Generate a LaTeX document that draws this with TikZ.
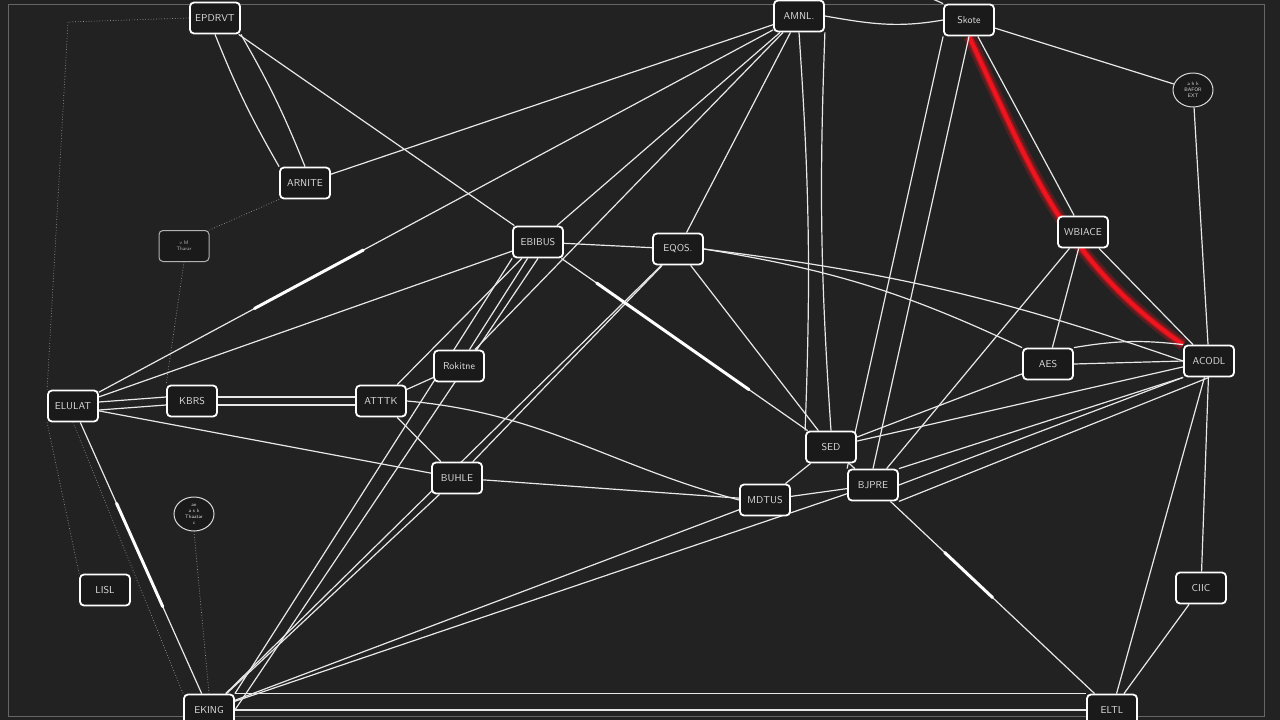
\documentclass[tikz,border=0pt]{standalone}
\usepackage{tikz}
\usetikzlibrary{calc}
\usetikzlibrary{positioning}
\usetikzlibrary{shapes}
\definecolor{boardBg}{RGB}{34,34,34}
\definecolor{boxFill}{RGB}{26,26,26}
\definecolor{wireGrey}{RGB}{232,232,232}
\definecolor{glowRed}{RGB}{240,20,30}
\pgfdeclarelayer{board}
\pgfdeclarelayer{wires}
\pgfsetlayers{board,wires,main}
\tikzset{every picture/.style={semithick}}
\tikzset{
	box/.style={draw=white, line width=1.8pt, rounded corners=4pt, fill=boxFill, text=white!88!black,
		minimum width=50pt, minimum height=31pt, inner sep=2pt, font=\sffamily},
	dimbox/.style={box, draw=white!70!black, line width=1pt, text=white!70!black, font=\sffamily\tiny, align=center},
	oval/.style={ellipse, draw=white!85!black, line width=1pt, fill=boxFill, text=white!85!black,
		minimum width=40pt, minimum height=34pt, inner sep=0pt, font=\sffamily\tiny, align=center},
	link/.style={draw=wireGrey, line width=1.2pt},
	dotlink/.style={draw=white!60!black, line width=0.7pt, dotted},
	glint/.style={draw=white, line width=3pt, line cap=round},
	redwire/.style={draw=glowRed, line width=4pt},
	redglow/.style={draw=glowRed, line width=12pt, opacity=0.25}
}
\begin{document}
\begin{tikzpicture}[x=1pt, y=-1pt]
	\clip (0,0) rectangle (1280,720);
	\begin{pgfonlayer}{board}
	\fill[boardBg] (0,0) rectangle (1280,720);
	\draw[white!40!black, line width=0.6pt] (8,4) rectangle (1264,716);
	\end{pgfonlayer}

	% boxes
	\node[box] (epdrvt) at (215,18) {EPDRVT};
	\node[box] (amnl) at (799,16) {AMNL.};
	\node[box] (skote) at (969,20) {Skote};
	\node[oval] (ovA) at (1193,90) {a h k\\ BAFOR\\ EXT};
	\node[box] (arnite) at (305,183) {ARNITE};
	\node[dimbox] (vmt) at (184,246) {v M\\ Tharar};
	\node[box] (ebibus) at (538,242) {EBIBUS};
	\node[box] (eqos) at (678,249) {EQOS.};
	\node[box] (wbiace) at (1083,232) {WBIACE};
	\node[box] (aes) at (1048,364) {AES};
	\node[box] (acodl) at (1209,361) {ACODL};
	\node[box] (elulat) at (73,406) {ELULAT};
	\node[box] (kbrs) at (192,401) {KBRS};
	\node[box] (atttk) at (381,401) {ATTTK};
	\node[box] (rokitne) at (459,366) {Rokitne};
	\node[box] (sed) at (831,447) {SED};
	\node[box] (buhle) at (457,478) {BUHLE};
	\node[box] (mdtus) at (765,500) {MDTUS};
	\node[box] (bjpre) at (873,485) {BJPRE};
	\node[oval] (ovB) at (194,514) {an\\ a s k\\ Thaatar\\ c};
	\node[box] (lisl) at (105,590) {LISL};
	\node[box] (ciic) at (1201,588) {CIIC};
	\node[box] (eking) at (209,710) {EKING};
	\node[box] (eltl) at (1112,710) {ELTL};

	\coordinate (cornerTL) at (68,22);

	\begin{pgfonlayer}{wires}
	% red wire
	\draw[redglow] (skote.south) to[out=-65,in=145] (acodl.north west);
	\draw[redglow, line width=7pt, opacity=0.45] (skote.south) to[out=-65,in=145] (acodl.north west);
	\draw[redwire] (skote.south) to[out=-65,in=145] (acodl.north west);

	% dotted guides
	\draw[dotlink] (elulat.north west) -- (cornerTL) -- (epdrvt.west);
	\draw[dotlink] (arnite.south west) -- (vmt.north east);
	\draw[dotlink] (vmt.south) -- (kbrs.north west);
	\draw[dotlink] (ovB.south) -- (eking.north);
	\draw[dotlink] (elulat.south west) -- (lisl.north west);
	\draw[dotlink] (elulat.south) -- (eking.north west);

	% wires
	\draw[link] (epdrvt.south) to[bend right=4] (arnite.north west);
	\draw[link] (epdrvt.south east) to[bend left=4] (arnite.north);
	\draw[link] (epdrvt) -- (ebibus);
	\draw[link] (arnite) -- (amnl);
	\draw[link] (elulat) -- (amnl);
	\draw[link] (ebibus) -- (amnl);
	\draw[link] (eqos) -- (amnl);
	\draw[link] (rokitne) -- (amnl);
	\draw[link] (amnl.south) to[bend left=3] (sed.north west);
	\draw[link] (amnl.south east) to[bend right=3] (sed.north);
	\draw[link] (amnl.east) to[out=-10,in=190] (skote.west);
	\draw[link] (amnl.north east) to[out=25,in=155] (skote.north west);
	\draw[link] (skote) -- (ovA);
	\draw[link] (skote) -- (wbiace);
	\draw[link] (skote.south) -- (bjpre.north);
	\draw[link] (skote.south west) -- (bjpre.north west);
	\draw[link] (ovA) -- (acodl);
	\draw[link] (wbiace) -- (acodl);
	\draw[link] (wbiace) -- (bjpre);
	\draw[link] (wbiace) -- (aes);
	\draw[link] (aes.north east) to[bend left=8] (acodl.north west);
	\draw[link] (aes.east) -- (acodl.west);
	\draw[link] (aes) -- (sed);
	\draw[link] (aes.north west) to[bend right=8] (eqos.east);
	\draw[link] (acodl.south west) -- (bjpre.north east);
	\draw[link] (acodl.south west) -- (bjpre.east);
	\draw[link] (acodl.south) -- (bjpre.south east);
	\draw[link] (acodl) -- (sed);
	\draw[link] (acodl) -- (ciic);
	\draw[link] (acodl) -- (eltl);
	\draw[link] (eqos) -- (ebibus);
	\draw[link] (eqos) -- (sed);
	\draw[link] (eqos.east) to[bend left=6] (acodl.west);
	\draw[link] (eqos) -- (buhle);
	\draw[link] (eqos) -- (eking);
	\draw[link] (ebibus) -- (elulat);
	\draw[link] (ebibus) -- (atttk);
	\draw[link] (ebibus) -- (rokitne);
	\draw[link] (ebibus) -- (sed);
	\draw[link] (ebibus.south west) -- (eking.north east);
	\draw[link] (ebibus.south) -- (eking.east);
	\draw[link] ([yshift=-4pt]elulat.east) -- ([yshift=-4pt]kbrs.west);
	\draw[link] ([yshift=4pt]elulat.east) -- ([yshift=4pt]kbrs.west);
	\draw[link] ([yshift=-4pt]kbrs.east) -- ([yshift=-4pt]atttk.west);
	\draw[link] ([yshift=4pt]kbrs.east) -- ([yshift=4pt]atttk.west);
	\draw[link] (elulat) -- (buhle);
	\draw[link] (elulat) -- (eking);
	\draw[link] (atttk) -- (buhle);
	\draw[link] (atttk.east) to[out=-5,in=165] (mdtus.west);
	\draw[link] (atttk) -- (rokitne);
	\draw[link] (buhle) -- (mdtus);
	\draw[link] (buhle) -- (eking);
	\draw[link] (mdtus) -- (sed);
	\draw[link] (mdtus) -- (bjpre);
	\draw[link] (mdtus) -- (eking);
	\draw[link] (bjpre) -- (eltl);
	\draw[link] (bjpre) -- (eking);
	\draw[link] (sed) -- (bjpre);
	\draw[link] (eking.north east) -- (eltl.north west);
	\draw[link] (eking.east) -- (eltl.west);
	\draw[link] (ciic) -- (eltl);

	% glints
	\draw[glint] ($(elulat)!0.25!(amnl)$) -- ($(elulat)!0.4!(amnl)$);
	\draw[glint] ($(ebibus)!0.2!(sed)$) -- ($(ebibus)!0.72!(sed)$);
	\draw[glint] ($(elulat)!0.32!(eking)$) -- ($(elulat)!0.66!(eking)$);
	\draw[glint] ($(bjpre)!0.3!(eltl)$) -- ($(bjpre)!0.5!(eltl)$);
	\end{pgfonlayer}
\end{tikzpicture}
\end{document}
